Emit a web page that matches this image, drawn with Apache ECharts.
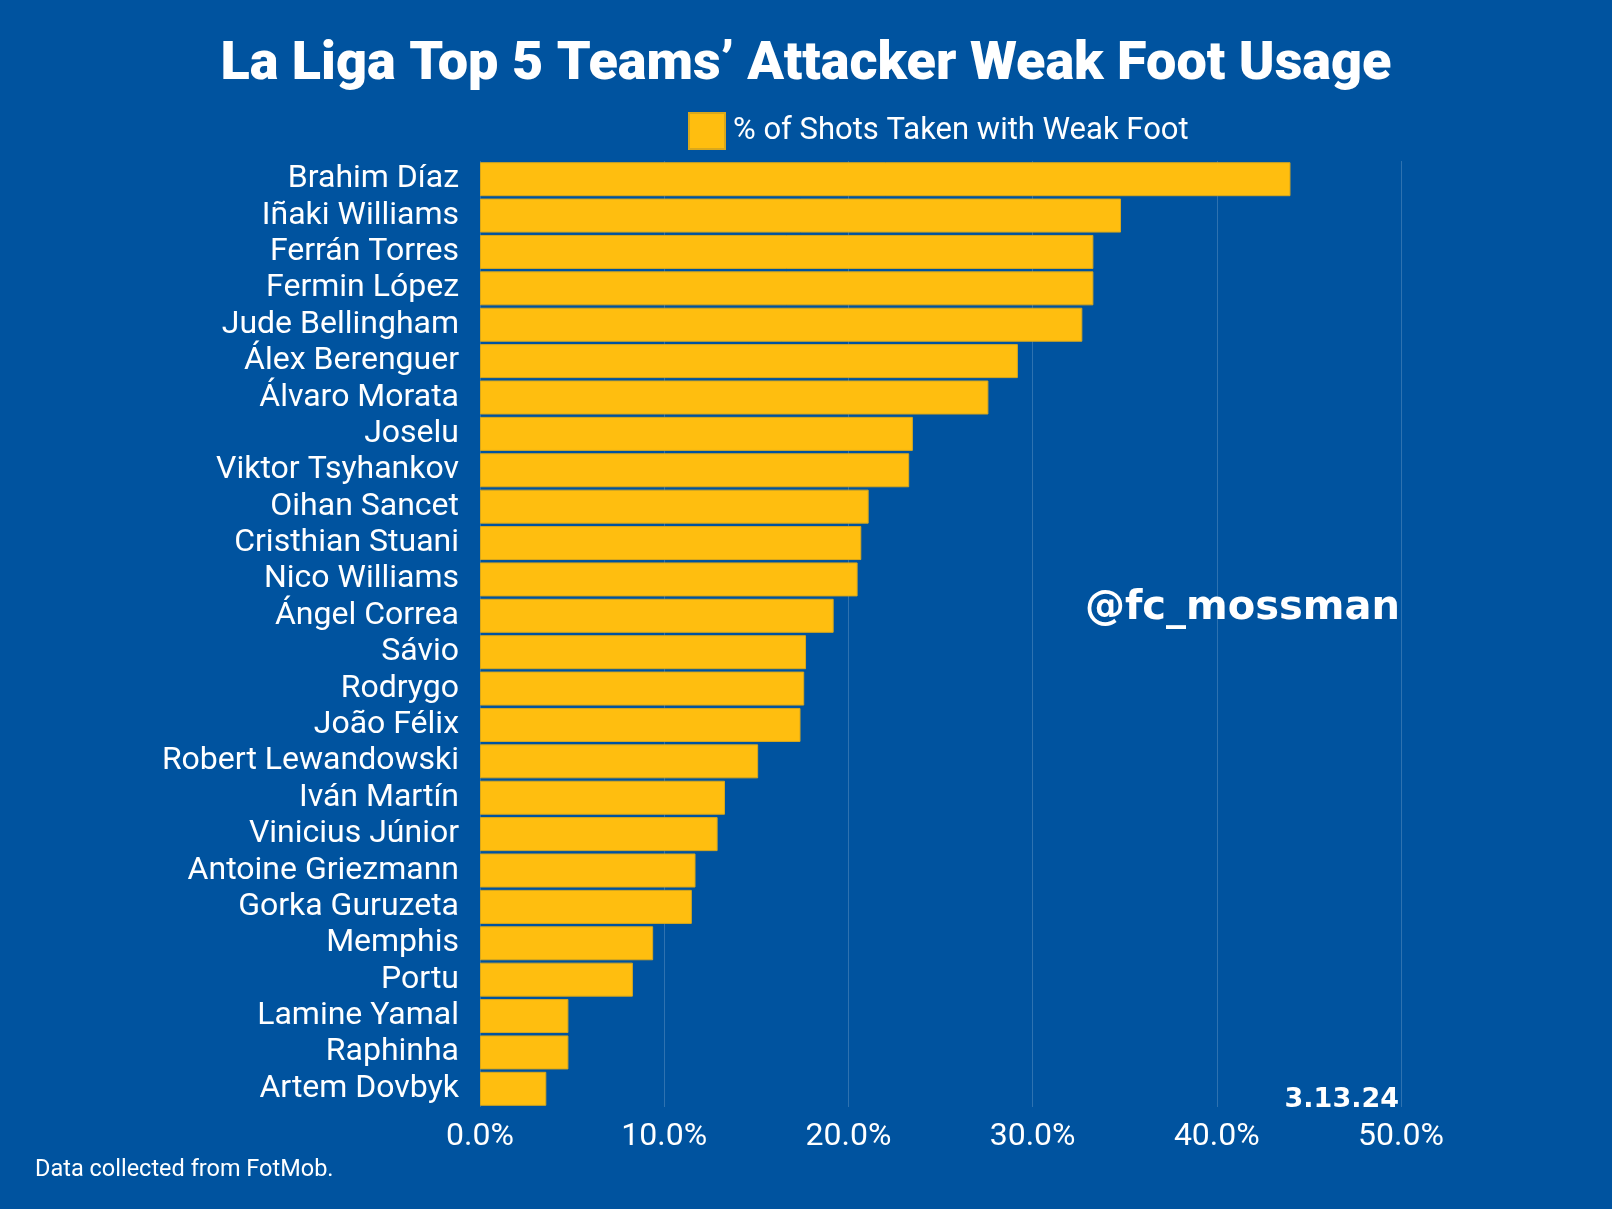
<!DOCTYPE html>
<html>
<head>
<meta charset="utf-8">
<title>La Liga Weak Foot Usage</title>
<script src="https://cdn.jsdelivr.net/npm/echarts@6/dist/echarts.min.js"></script>
<style>
    html, body { margin: 0; padding: 0; background: #00539f; }
    #chart { width: 1612px; height: 1209px; }
</style>
</head>
<body>
<div id="chart"></div>
<script>
var players = ['Brahim Díaz', 'Iñaki Williams', 'Ferrán Torres', 'Fermin López', 'Jude Bellingham', 'Álex Berenguer',
    'Álvaro Morata', 'Joselu', 'Viktor Tsyhankov', 'Oihan Sancet', 'Cristhian Stuani', 'Nico Williams', 'Ángel Correa',
    'Sávio', 'Rodrygo', 'João Félix', 'Robert Lewandowski', 'Iván Martín', 'Vinicius Júnior', 'Antoine Griezmann',
    'Gorka Guruzeta', 'Memphis', 'Portu', 'Lamine Yamal', 'Raphinha', 'Artem Dovbyk'];
var weakFootPct = [44.0, 34.8, 33.3, 33.3, 32.7, 29.2, 27.6, 23.5, 23.3, 21.1, 20.7, 20.5, 19.2,
    17.7, 17.6, 17.4, 15.1, 13.3, 12.9, 11.7, 11.5, 9.4, 8.3, 4.8, 4.8, 3.6];
var seriesName = '% of Shots Taken with Weak Foot';
var titleText = 'La Liga Top 5 Teams’ Attacker Weak Foot Usage';
var handleText = '@fc_mossman';
var dateText = '3.13.24';
var sourceText = 'Data collected from FotMob.';

var textFont = 'Roboto';
var myChart = echarts.init(document.getElementById('chart'));
var option = {
    backgroundColor: '#00539f',
    animation: false,
    textStyle: { fontFamily: textFont },
    title: {
        text: titleText,
        left: 'center',
        top: 33,
        textStyle: { color: '#fff', fontSize: 54, fontWeight: 900, fontFamily: textFont }
    },
    legend: {
        data: [{ name: seriesName, icon: 'rect' }],
        left: 683,
        top: 107,
        itemWidth: 36,
        itemHeight: 36,
        textStyle: { color: '#fff', fontSize: 31, fontFamily: textFont, padding: [0, 0, 0, 3] }
    },
    grid: { left: 480, right: 211, top: 161, bottom: 102 },
    xAxis: {
        type: 'value',
        min: 0,
        max: 50,
        interval: 10,
        axisLine: { show: false },
        axisTick: { show: false },
        splitLine: { lineStyle: { color: 'rgba(255,255,255,0.18)', width: 1 } },
        axisLabel: {
            color: '#fff',
            fontSize: 32,
            margin: 14,
            formatter: function (v) { return v.toFixed(1) + '%'; }
        }
    },
    yAxis: {
        type: 'category',
        inverse: true,
        data: players,
        axisLine: { show: false },
        axisTick: { show: false },
        axisLabel: { color: '#fff', fontSize: 32, margin: 21, interval: 0, padding: [6, 0, 0, 0] }
    },
    series: [{
        name: seriesName,
        type: 'bar',
        data: weakFootPct,
        barWidth: 34,
        itemStyle: { color: '#ffbe0f', borderColor: '#d9a81c', borderWidth: 1 }
    }],
    graphic: [
        {
            type: 'text', right: 212, top: 589,
            style: { text: handleText, fill: '#fff', font: 'bold 40px "DejaVu Sans"' }
        },
        {
            type: 'text', right: 213, top: 1086,
            style: { text: dateText, fill: '#fff', font: 'bold 27px "DejaVu Sans"' }
        },
        {
            type: 'text', left: 35, top: 1158,
            style: { text: sourceText, fill: '#fff', font: '23.5px Roboto' }
        }
    ]
};
myChart.setOption(option);
</script>
</body>
</html>
